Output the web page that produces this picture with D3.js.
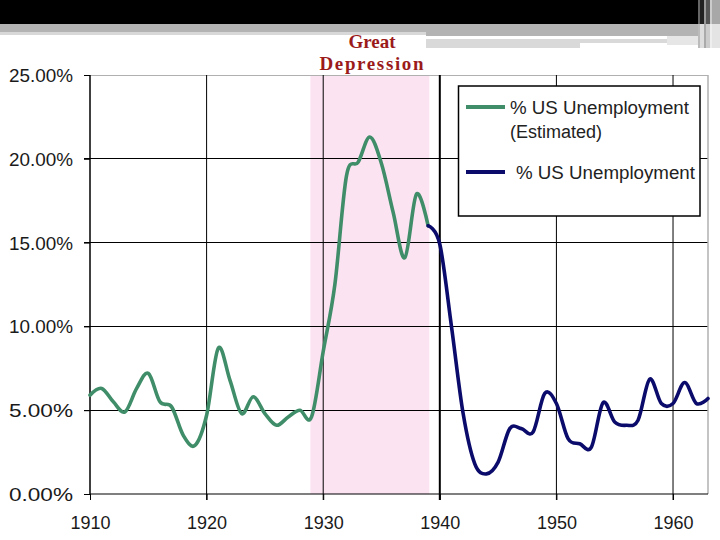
<!DOCTYPE html>
<html><head><meta charset="utf-8">
<script src="https://cdn.jsdelivr.net/npm/d3@7"></script>
<style>html,body{margin:0;padding:0;background:#fff;}svg{display:block;}</style>
</head><body>
<svg id="chart" width="720" height="540"></svg>
<script>
// ---- data ----
const estYears = [1910,1911,1912,1913,1914,1915,1916,1917,1918,1919,1920,1921,1922,1923,1924,1925,1926,1927,1928,1929,1930,1931,1932,1933,1934,1935,1936,1937,1938,1939];
const estValues = [5.9,6.3,5.5,4.9,6.3,7.2,5.5,5.2,3.5,2.9,4.7,8.7,6.8,4.8,5.8,4.8,4.1,4.6,5.0,4.6,8.5,12.5,19.0,19.8,21.3,19.7,16.8,14.1,17.9,16.0];
const actYears = [1939,1940,1941,1942,1943,1944,1945,1946,1947,1948,1949,1950,1951,1952,1953,1954,1955,1956,1957,1958,1959,1960,1961,1962,1963];
const actValues = [16.0,14.9,10.0,4.8,1.8,1.2,1.9,3.9,3.9,3.7,6.0,5.4,3.3,3.0,2.8,5.45,4.3,4.1,4.4,6.85,5.4,5.4,6.65,5.4,5.7];
const xTickYears = [1910,1920,1930,1940,1950,1960];
const yTickValues = [0,5,10,15,20,25];
const depression = [1928.9, 1939.1];
const depressionLabel = ["Great","Depression"];
const legendLabels = [["% US Unemployment","(Estimated)"],["% US Unemployment"]];

// ---- drawing ----
const svg = d3.select("#chart");
const pL = 90, pR = 708, pT = 75, pB = 494;
const x = d3.scaleLinear().domain([1910,1963]).range([pL,pR]);
const y = d3.scaleLinear().domain([0,25]).range([pB,pT]);

// top slide decoration
const deco = svg.append("g");
deco.append("rect").attr("x",0).attr("y",0).attr("width",720).attr("height",24).attr("fill","#000");
deco.append("rect").attr("x",0).attr("y",24).attr("width",720).attr("height",8).attr("fill","#b3b3b3");
deco.append("rect").attr("x",0).attr("y",32).attr("width",426).attr("height",3).attr("fill","#d8d8d8");
deco.append("rect").attr("x",426).attr("y",32).attr("width",274).attr("height",4).attr("fill","#b3b3b3");
deco.append("rect").attr("x",426).attr("y",39).attr("width",241).attr("height",4).attr("fill","#d9d9d9");
deco.append("rect").attr("x",426).attr("y",43).attr("width",154).attr("height",5).attr("fill","#d9d9d9");
deco.append("rect").attr("x",667).attr("y",36).attr("width",33).attr("height",9).attr("fill","#e6e6e6");
[[698,2,"#666"],[700,4,"#222"],[704,2,"#999"],[706,4,"#555"],[710,2,"#ccc"],[712,8,"#a8a8a8"]].forEach(([sx,w,c])=>{
  deco.append("rect").attr("x",sx).attr("y",0).attr("width",w).attr("height",24).attr("fill",c);
});
[[698,2,"#bbb"],[700,4,"#ddd"],[704,2,"#aaa"],[706,4,"#ccc"],[710,2,"#eee"],[712,8,"#e4e4e4"]].forEach(([sx,w,c])=>{
  deco.append("rect").attr("x",sx).attr("y",24).attr("width",w).attr("height",24).attr("fill",c);
});

// depression band
svg.append("rect")
  .attr("x",x(depression[0])).attr("y",pT)
  .attr("width",x(depression[1])-x(depression[0])).attr("height",pB-pT)
  .attr("fill","#fbe3f2");

// horizontal grid
svg.append("g").selectAll("line").data(yTickValues.filter(v=>v>0 && v<25)).join("line")
  .attr("x1",pL-6).attr("x2",pR).attr("y1",d=>y(d)).attr("y2",d=>y(d))
  .attr("stroke","#000").attr("stroke-width",1).attr("shape-rendering","crispEdges");
// top border (gray) and right border
svg.append("line").attr("x1",pL).attr("x2",pR).attr("y1",pT).attr("y2",pT)
  .attr("stroke","#b0b0b0").attr("stroke-width",1).attr("shape-rendering","crispEdges");
svg.append("line").attr("x1",pR).attr("x2",pR).attr("y1",pT).attr("y2",pB)
  .attr("stroke","#b0b0b0").attr("stroke-width",1.5);

// vertical grid
svg.append("g").selectAll("line").data(xTickYears.filter(d=>d>1910)).join("line")
  .attr("x1",d=>x(d)).attr("x2",d=>x(d)).attr("y1",pT).attr("y2",pB+6)
  .attr("stroke","#000").attr("stroke-width",d=>d===1940?2:1);

// axes via d3
const yAxis = d3.axisLeft(y).tickValues(yTickValues).tickSize(6).tickFormat(d=>d3.format(".2f")(d)+"%");
const gy = svg.append("g").attr("transform",`translate(${pL},0)`).call(yAxis);
gy.select(".domain").attr("stroke","#000").attr("stroke-width",1.5).attr("d",`M0,${pT}V${pB}`);
gy.selectAll(".tick line").attr("stroke","#000");
gy.selectAll(".tick text").attr("x",-17).attr("dy","0.36em")
  .attr("font-family","Liberation Sans, Arial, sans-serif").attr("font-size",18).attr("fill","#1a1a1a")
  .attr("textLength",64).attr("lengthAdjust","spacingAndGlyphs");

const xAxis = d3.axisBottom(x).tickValues(xTickYears).tickSize(6).tickFormat(d3.format("d"));
const gx = svg.append("g").attr("transform",`translate(0,${pB})`).call(xAxis);
gx.select(".domain").attr("stroke","#000").attr("stroke-width",1.2).attr("d",`M${pL},0H${pR}`);
gx.selectAll(".tick line").attr("stroke","#000");
gx.selectAll(".tick text").attr("y",22).attr("dy","0.71em")
  .attr("font-family","Liberation Sans, Arial, sans-serif").attr("font-size",18).attr("fill","#1a1a1a");

// lines
const line = d3.line().x(d=>x(d[0])).y(d=>y(d[1])).curve(d3.curveCardinal.tension(0));
svg.append("path").datum(estYears.map((yr,i)=>[yr,estValues[i]]))
  .attr("d",line).attr("fill","none").attr("stroke","#3f8d69").attr("stroke-width",3.6)
  .attr("stroke-linejoin","round").attr("stroke-linecap","round");
svg.append("path").datum(actYears.map((yr,i)=>[yr,actValues[i]]))
  .attr("d",line).attr("fill","none").attr("stroke","#0b0b6b").attr("stroke-width",3.6)
  .attr("stroke-linejoin","round").attr("stroke-linecap","round");

// legend
const lg = svg.append("g");
lg.append("rect").attr("x",458.5).attr("y",86).attr("width",241.5).attr("height",130)
  .attr("fill","#fff").attr("stroke","#000").attr("stroke-width",1.5);
lg.append("line").attr("x1",466).attr("x2",505).attr("y1",107).attr("y2",107)
  .attr("stroke","#3f8d69").attr("stroke-width",4);
lg.append("line").attr("x1",466).attr("x2",505).attr("y1",172).attr("y2",172)
  .attr("stroke","#0b0b6b").attr("stroke-width",4);
const lf = "Liberation Sans, Arial, sans-serif";
lg.append("text").attr("x",510).attr("y",114).attr("font-family",lf).attr("font-size",18).attr("fill","#222")
  .attr("textLength",179).attr("lengthAdjust","spacingAndGlyphs").text(legendLabels[0][0]);
lg.append("text").attr("x",510).attr("y",138).attr("font-family",lf).attr("font-size",18).attr("fill","#222")
  .text(legendLabels[0][1]);
lg.append("text").attr("x",516).attr("y",179).attr("font-family",lf).attr("font-size",18).attr("fill","#222")
  .attr("textLength",179).attr("lengthAdjust","spacingAndGlyphs").text(legendLabels[1][0]);

// Great Depression label
const dl = svg.append("g").attr("font-family","Liberation Serif, Times New Roman, serif")
  .attr("font-weight","bold").attr("font-size",19).attr("fill","#9b1b1b").attr("text-anchor","middle");
dl.append("text").attr("x",372).attr("y",48).text(depressionLabel[0]);
dl.append("text").attr("x",371.5).attr("y",70).attr("textLength",104).attr("lengthAdjust","spacing").text(depressionLabel[1]);
</script>
</body></html>
